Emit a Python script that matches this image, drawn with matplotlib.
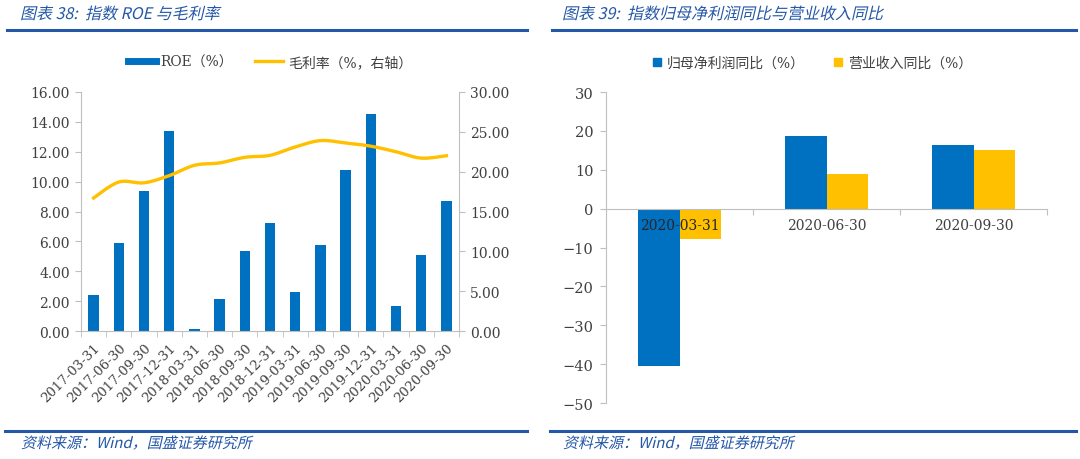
import matplotlib
matplotlib.use("Agg")
import matplotlib.pyplot as plt
import numpy as np
from matplotlib.lines import Line2D
from matplotlib.patches import PathPatch
from matplotlib.textpath import TextPath
from matplotlib.font_manager import FontProperties
from matplotlib.transforms import Affine2D
from matplotlib.ticker import FormatStrFormatter

plt.rcParams['font.family'] = ['DejaVu Serif', 'Noto Sans CJK SC']
plt.rcParams['axes.unicode_minus'] = True

# %% data
quarters = ['2017-03-31', '2017-06-30', '2017-09-30', '2017-12-31', '2018-03-31',
            '2018-06-30', '2018-09-30', '2018-12-31', '2019-03-31', '2019-06-30',
            '2019-09-30', '2019-12-31', '2020-03-31', '2020-06-30', '2020-09-30']
roe = [2.43, 5.92, 9.35, 13.41, 0.13, 2.17, 5.33, 7.25, 2.59, 5.74, 10.80, 14.53, 1.70, 5.07, 8.73]
gross_margin = [16.7, 18.7, 18.6, 19.5, 20.8, 21.1, 21.8, 22.05, 23.1, 23.9, 23.6, 23.2, 22.5, 21.7, 22.0]

quarters_2020 = ['2020-03-31', '2020-06-30', '2020-09-30']
profit_yoy = [-40.4, 18.7, 16.3]
revenue_yoy = [-7.9, 8.9, 15.1]

BLUE = '#0070C0'
GOLD = '#FFC000'
HEAD = '#2457A8'
GRID = '#BFBFBF'
TXT = '#404040'
W, H = 1080, 460


def smooth_line(x, y, n=16):
    # Excel style smoothed line (Catmull-Rom through the data points)
    pts = np.column_stack([x, y]).astype(float)
    pad = np.vstack([pts[0], pts, pts[-1]])
    t = np.linspace(0, 1, n, endpoint=False)[:, None]
    out = []
    for i in range(len(pts) - 1):
        p0, p1, p2, p3 = pad[i:i + 4]
        out.append(0.5 * (2 * p1 + (-p0 + p2) * t + (2 * p0 - 5 * p1 + 4 * p2 - p3) * t ** 2
                          + (-p0 + 3 * p1 - 3 * p2 + p3) * t ** 3))
    out.append(pts[-1:])
    s = np.vstack(out)
    return s[:, 0], s[:, 1]


def fx(px):
    return px / W


def fy(py):
    return 1 - py / H


cjk = FontProperties(family='Noto Sans CJK SC')


def slanted_text(fig, px, baseline, s, size):
    # fake italic: glyph outlines sheared to the right, placed in pixel coords
    path = TextPath((0, 0), s, size=size, prop=cjk)
    tr = Affine2D().skew_deg(13, 0).translate(px, H - baseline)
    fig.add_artist(PathPatch(path, transform=tr, color=HEAD, lw=0))


fig = plt.figure(figsize=(10.8, 4.6), dpi=100)

# headers / footers
for x0, x1, tx, title in [(7, 527, 20, '图表 38:  指数 ROE 与毛利率'),
                          (552, 1076, 562, '图表 39:  指数归母净利润同比与营业收入同比')]:
    slanted_text(fig, tx, 20, title, 16)
    fig.add_artist(Line2D([fx(x0), fx(x1)], [fy(31), fy(31)], color=HEAD, lw=2.2))
    fig.add_artist(Line2D([fx(x0 - 2), fx(x1)], [fy(432), fy(432)], color=HEAD, lw=2.2))
    slanted_text(fig, tx + 1, 449, '资料来源：Wind，国盛证券研究所', 15)

# %% left chart
ax = fig.add_axes([fx(81), fy(332), fx(459 - 81), fy(93) - fy(332)])
x = np.arange(len(quarters))
ax.bar(x, roe, width=0.42, color=BLUE, zorder=2)
ax.set_xlim(-0.5, len(quarters) - 0.5)
ax.set_ylim(0, 16)
ax.set_yticks(np.arange(0, 16.1, 2))
ax.yaxis.set_major_formatter(FormatStrFormatter('%.2f'))
ax.set_xticks(x)
ax.set_xticklabels(quarters, rotation=45, ha='right', rotation_mode='anchor')
ax.set_xticks(np.arange(-0.5, len(quarters), 1), minor=True)
ax.tick_params(axis='x', which='major', length=0, pad=7, labelsize=9.5, labelcolor=TXT)
ax.tick_params(axis='x', which='minor', length=4, color=GRID, direction='out')
ax.tick_params(axis='y', length=4, color=GRID, labelsize=10, labelcolor=TXT, pad=4)
for s in ['top', 'right']:
    ax.spines[s].set_visible(False)
for s in ['left', 'bottom']:
    ax.spines[s].set_color(GRID)

ax2 = ax.twinx()
sx, sy = smooth_line(x, gross_margin)
ax2.plot(sx, sy, color=GOLD, lw=2.4, zorder=3)
ax2.set_ylim(0, 30)
ax2.set_yticks(np.arange(0, 30.1, 5))
ax2.yaxis.set_major_formatter(FormatStrFormatter('%.2f'))
ax2.tick_params(axis='y', length=4, color=GRID, labelsize=10, labelcolor=TXT, pad=4)
for s in ['top', 'left', 'bottom']:
    ax2.spines[s].set_visible(False)
ax2.spines['right'].set_color(GRID)

handles = [Line2D([], [], color=BLUE, lw=5), Line2D([], [], color=GOLD, lw=2.4)]
fig.legend(handles, ['ROE（%）', '毛利率（%，右轴）'], loc='center',
           bbox_to_anchor=(fx(270), fy(63)), ncol=2, frameon=False, fontsize=10,
           handlelength=2.0, handletextpad=0.35, columnspacing=1.6, labelcolor=TXT)

# %% right chart
bx = fig.add_axes([fx(606), fy(404), fx(1047 - 606), fy(93) - fy(404)])
x3 = np.arange(len(quarters_2020))
bw = 0.285
bx.bar(x3 - bw / 2, profit_yoy, width=bw, color=BLUE, zorder=2)
bx.bar(x3 + bw / 2, revenue_yoy, width=bw, color=GOLD, zorder=2)
bx.set_xlim(-0.5, len(quarters_2020) - 0.5)
bx.set_ylim(-50, 30)
bx.set_yticks(np.arange(-50, 31, 10))
bx.tick_params(axis='y', length=4, color=GRID, labelsize=10.5, labelcolor=TXT, pad=5)
bx.set_xticks(np.arange(0.5, len(quarters_2020), 1))
bx.set_xticklabels([])
bx.tick_params(axis='x', length=4, color=GRID, direction='out')
bx.spines['bottom'].set_position(('data', 0))
bx.spines['bottom'].set_color(GRID)
bx.spines['left'].set_color(GRID)
for s in ['top', 'right']:
    bx.spines[s].set_visible(False)
for i, q in enumerate(quarters_2020):
    bx.annotate(q, (i, 0), xytext=(0, -7), textcoords='offset points', ha='center', va='top',
                fontsize=10, color='#262626' if i == 0 else TXT, zorder=5)

handles = [Line2D([], [], color=BLUE, marker='s', ls='none', markersize=5.5),
           Line2D([], [], color=GOLD, marker='s', ls='none', markersize=5.5)]
fig.legend(handles, ['归母净利润同比（%）', '营业收入同比（%）'], loc='center',
           bbox_to_anchor=(fx(812), fy(64)), ncol=2, frameon=False, fontsize=10,
           handlelength=0.8, handletextpad=0.3, columnspacing=2.0, labelcolor=TXT)

fig.savefig('out.png', dpi=100)
